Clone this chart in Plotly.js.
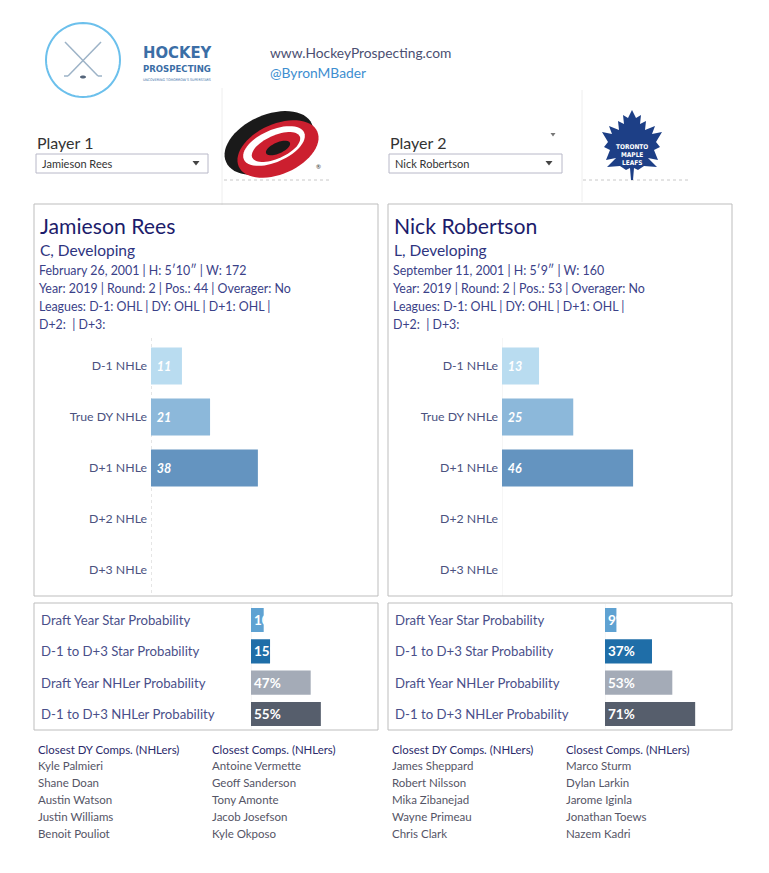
<!DOCTYPE html>
<html><head><meta charset="utf-8">
<script src="https://cdn.plot.ly/plotly-3.0.1.min.js"></script>
<style>html,body{margin:0;padding:0;background:#fff;}#chart{width:769px;height:873px;}</style>
</head><body><div id="chart"></div>
<script>
// ---------- DATA ----------
const nhleCategories = ['D-1 NHLe','True DY NHLe','D+1 NHLe','D+2 NHLe','D+3 NHLe'];
const p1NHLe = [11, 21, 38, null, null];
const p2NHLe = [13, 25, 46, null, null];
const probCategories = ['Draft Year Star Probability','D-1 to D+3 Star Probability','Draft Year NHLer Probability','D-1 to D+3 NHLer Probability'];
const p1Prob = [10, 15, 47, 55];
const p2Prob = [9, 37, 53, 71];
const p1Info = ['Jamieson Rees','C, Developing','February 26, 2001 | H: 5\u203210\u2033 | W: 172','Year: 2019 | Round: 2 | Pos.: 44 | Overager: No','Leagues: D-1: OHL | DY: OHL | D+1: OHL |','D+2:  | D+3:'];
const p2Info = ['Nick Robertson','L, Developing','September 11, 2001 | H: 5\u20329\u2033 | W: 160','Year: 2019 | Round: 2 | Pos.: 53 | Overager: No','Leagues: D-1: OHL | DY: OHL | D+1: OHL |','D+2:  | D+3:'];
const compHeaders = ['Closest DY Comps. (NHLers)','Closest Comps. (NHLers)'];
const p1DYComps = ['Kyle Palmieri','Shane Doan','Austin Watson','Justin Williams','Benoit Pouliot'];
const p1Comps = ['Antoine Vermette','Geoff Sanderson','Tony Amonte','Jacob Josefson','Kyle Okposo'];
const p2DYComps = ['James Sheppard','Robert Nilsson','Mika Zibanejad','Wayne Primeau','Chris Clark'];
const p2Comps = ['Marco Sturm','Dylan Larkin','Jarome Iginla','Jonathan Toews','Nazem Kadri'];
const nhleColors = ['#b9dcf0','#8cb8da','#6494c0','#4a78a8','#345f90'];
const probColors = ['#5fa2d2','#1f6ea8','#a4abb7','#565e6c'];

// ---------- LAYOUT HELPERS ----------
const W = 769, H = 873;
const FONT = 'Lato, "Noto Sans", sans-serif';
const NARROW = '"Liberation Sans Narrow", "DejaVu Sans Condensed", Roboto, sans-serif';
const px = v => v / W;
const py = v => 1 - v / H;
const annotations = [];
const shapes = [];
function txt(x, y, text, size, color, o) {
  o = o || {};
  annotations.push(Object.assign({xref:'x5', yref:'y5', x:x, y:y, text:text, showarrow:false,
    xanchor:'left', yanchor:'middle', font:{family:o.family||FONT, size:size, color:color, weight:o.weight||'normal'}}, o.extra||{}));
}
function rect(x0,y0,x1,y1,line,fill,dash){
  shapes.push({type:'rect', xref:'x5', yref:'y5', x0:x0,y0:y0,x1:x1,y1:y1, line:{color:line||'rgba(0,0,0,0)', width:1, dash:dash||'solid'}, fillcolor:fill||'rgba(0,0,0,0)', layer:'below'});
}
function line(x0,y0,x1,y1,color,width,dash){
  shapes.push({type:'line', xref:'x5', yref:'y5', x0:x0,y0:y0,x1:x1,y1:y1, line:{color:color, width:width||1, dash:dash||'solid'}, layer:'below'});
}
function pathShape(d, fill, lineColor, lw){
  shapes.push({type:'path', xref:'x5', yref:'y5', path:d, fillcolor:fill||'rgba(0,0,0,0)', line:{color:lineColor||'rgba(0,0,0,0)', width:lw||0}, layer:'above'});
}
function ellipse(cx, cy, a, b, rot){
  const r = rot*Math.PI/180; let d='';
  for (let i=0;i<=60;i++){ const t=i/60*2*Math.PI; const ex=a*Math.cos(t), ey=b*Math.sin(t);
    const X=cx+ex*Math.cos(r)-ey*Math.sin(r), Y=cy+ex*Math.sin(r)+ey*Math.cos(r);
    d += (i===0?'M':'L')+X.toFixed(1)+','+Y.toFixed(1); }
  return d+'Z';
}

// ---------- HEADER ----------
// Hockey Prospecting logo
pathShape(ellipse(83,60,37,37,0), null, '#6cc0ec', 2);
pathShape('M 56,35 A 37,37 0 0 0 62,91', null, '#3a62b0', 2.5);
line(65,42,98,76,'#9db3c7',1.5); line(98,76,102,76,'#9db3c7',1.5);
line(101,42,68,76,'#9db3c7',1.5); line(68,76,64,76,'#9db3c7',1.5);
pathShape(ellipse(83,77,3,1.5,0), '#55657a');
txt(141,52,'HOCKEY',16.5,'#3b6ea6',{family:NARROW, weight:'bold'});
txt(141,68,'PROSPECTING',9.5,'#3b6ea6',{family:NARROW, weight:'bold'});
txt(141,80,"UNCOVERING TOMORROW'S SUPERSTARS",3.6,'#3b6ea6',{family:NARROW});
txt(268,52,'www.HockeyProspecting.com',13.8,'#4b4f72');
txt(268,72,'@ByronMBader',13.8,'#3d8ed0');

// Player selectors
txt(35,142,'Player 1',16,'#333333');
rect(36,154,208,173,'#b8b8c8');
txt(40,163.5,p1Info[0],11,'#333333');
pathShape('M192.5,161 L199.5,161 L196,165.5 Z','#444');
txt(388,142,'Player 2',16,'#333333');
rect(389,154,562,173,'#b8b8c8');
txt(393,163.5,p2Info[0],11,'#333333');
pathShape('M545.5,161 L552.5,161 L549,165.5 Z','#444');
pathShape('M550.5,133 L555.5,133 L553,136.5 Z','#777');

// faint container lines
line(222,88,222,205,'#eeeeee',1); line(582,90,582,202,'#eeeeee',1);
line(224,180,330,180,'#c8c8c8',1,'dot'); line(583,180,690,180,'#c8c8c8',1,'dot');

// Hurricanes logo (approximation)
pathShape(ellipse(269,143,47,28,-24),'#1a1a1a');
pathShape(ellipse(278,149,43,25,-24),'#cc1f2f');
pathShape(ellipse(274,146,33,16,-24),'#ffffff');
pathShape(ellipse(276,147,26,11.5,-24),'#cc1f2f');
pathShape(ellipse(278,148,13,5.5,-24),'#1a1a1a');
txt(314,166,'®',6,'#333');

// Maple Leafs logo (approximation)
(function(){
  const right=[[632,110],[636,118],[641,115],[640,124],[646,121],[645,130],[655,126],[652,134],[662,132],[656,142],[660,147],[654,150],[658,160],[648,158],[657,167],[644,166],[638,170],[634,168],[633,180]];
  const left = right.slice().reverse().map(p=>[2*632-p[0],p[1]]);
  const pts = right.concat(left);
  const d = pts.map((p,i)=>(i?'L':'M')+p[0]+','+p[1]).join(' ')+' Z';
  pathShape(d,'#1d3f86');
})();
txt(632,147,'TORONTO',6.5,'#ffffff',{family:NARROW, weight:'bold', extra:{xanchor:'center'}});
txt(632,155,'MAPLE',6.5,'#ffffff',{family:NARROW, weight:'bold', extra:{xanchor:'center'}});
txt(632,162.5,'LEAFS',6.5,'#ffffff',{family:NARROW, weight:'bold', extra:{xanchor:'center'}});

// ---------- CARDS ----------
rect(34,204,378,596,'#bdbdbd'); rect(388,204,732,596,'#bdbdbd');
rect(34,603,378,730,'#bdbdbd'); rect(388,603,732,730,'#bdbdbd');
function card(info, x){
  txt(x,226,info[0],21.2,'#1c1c6b');
  txt(x,250,info[1],15.5,'#2e3480');
  const ys=[270,288,306,324];
  for(let i=2;i<info.length;i++) txt(x-1,ys[i-2],info[i],12.4,'#3a4188');
}
card(p1Info,38); card(p2Info,392);

// prob labels
probCategories.forEach(c=>{
  annotations.push({xref:'x5', yref:'y3', x:39, y:c, text:c, showarrow:false, xanchor:'left', yanchor:'middle', font:{family:FONT,size:13.2,color:'#4a4f8a'}});
  annotations.push({xref:'x5', yref:'y4', x:393, y:c, text:c, showarrow:false, xanchor:'left', yanchor:'middle', font:{family:FONT,size:13.2,color:'#4a4f8a'}});
});

// zero lines
shapes.push({type:'line', xref:'x', yref:'y5', x0:0,x1:0,y0:338,y1:596, line:{color:'#cccccc',width:1,dash:'dot'}, layer:'below'});
shapes.push({type:'line', xref:'x2', yref:'y5', x0:0,x1:0,y0:338,y1:596, line:{color:'#eeeeee',width:1}, layer:'below'});
shapes.push({type:'line', xref:'x3', yref:'y5', x0:0,x1:0,y0:604,y1:729, line:{color:'#eeeeee',width:1}, layer:'below'});
shapes.push({type:'line', xref:'x4', yref:'y5', x0:0,x1:0,y0:604,y1:729, line:{color:'#eeeeee',width:1}, layer:'below'});

// comps
function comps(x, header, list){
  txt(x,749,header,11.4,'#2a2a6a');
  list.forEach((n,i)=>txt(x,765+i*17,n,11.5,'#555566'));
}
comps(36,compHeaders[0],p1DYComps); comps(210,compHeaders[1],p1Comps);
comps(390,compHeaders[0],p2DYComps); comps(564,compHeaders[1],p2Comps);

// ---------- TRACES ----------
function nhleTrace(vals, xa, ya){
  return {type:'bar', orientation:'h', x:vals, y:nhleCategories, xaxis:xa, yaxis:ya, width:0.73,
    marker:{color:nhleColors}, texttemplate:'\u00a0%{x}', textposition:'inside', insidetextanchor:'start', textangle:0,
    constraintext:'none', textfont:{family:FONT, size:12.5, color:'#ffffff', weight:'bold', style:'italic'}, hoverinfo:'skip'};
}
function probTrace(vals, xa, ya){
  return {type:'bar', orientation:'h', x:vals, y:probCategories, xaxis:xa, yaxis:ya, width:0.77,
    marker:{color:probColors}, texttemplate:'%{x}%', textposition:'inside', insidetextanchor:'start', textangle:0,
    constraintext:'none', textfont:{family:FONT, size:13.5, color:'#ffffff', weight:'bold'}, hoverinfo:'skip'};
}
const data = [
  {type:'scatter', x:[], y:[], xaxis:'x5', yaxis:'y5', hoverinfo:'skip', showlegend:false},
  nhleTrace(p1NHLe,'x','y'), nhleTrace(p2NHLe,'x2','y2'),
  probTrace(p1Prob,'x3','y3'), probTrace(p2Prob,'x4','y4')
];

const hideX = r => ({range:r, showgrid:false, zeroline:false, showticklabels:false, showline:false, ticks:'', fixedrange:true});
const nhleDom = [py(595.5), py(340.5)];
const probDom = [py(729.7), py(604.3)];
const nhleY = (anchor) => ({domain:nhleDom, anchor:anchor, type:'category', autorange:'reversed', showgrid:false, zeroline:false, showline:false, ticks:'', ticklabelstandoff:3,
  tickfont:{family:FONT, size:12.3, color:'#4b5280'}, fixedrange:true});
const probY = (anchor) => ({domain:probDom, anchor:anchor, type:'category', autorange:'reversed', showgrid:false, zeroline:false, showline:false, ticks:'', showticklabels:false, fixedrange:true});

const layout = {
  width:W, height:H, margin:{l:0,r:0,t:0,b:0}, showlegend:false,
  paper_bgcolor:'#ffffff', plot_bgcolor:'rgba(0,0,0,0)',
  xaxis: Object.assign({domain:[px(151),px(376)], anchor:'y'}, hideX([0,80])),
  yaxis: nhleY('x'),
  xaxis2: Object.assign({domain:[px(502),px(730)], anchor:'y2'}, hideX([0,80])),
  yaxis2: nhleY('x2'),
  xaxis3: Object.assign({domain:[px(251),px(378)], anchor:'y3'}, hideX([0,100])),
  yaxis3: probY('x3'),
  xaxis4: Object.assign({domain:[px(605),px(732)], anchor:'y4'}, hideX([0,100])),
  yaxis4: probY('x4'),
  xaxis5: {domain:[0,1], range:[0,W], visible:false, fixedrange:true, anchor:'y5'},
  yaxis5: {domain:[0,1], range:[H,0], visible:false, fixedrange:true, anchor:'x5'},
  annotations: annotations, shapes: shapes
};
Plotly.newPlot('chart', data, layout, {staticPlot:true, displayModeBar:false});
</script></body></html>
